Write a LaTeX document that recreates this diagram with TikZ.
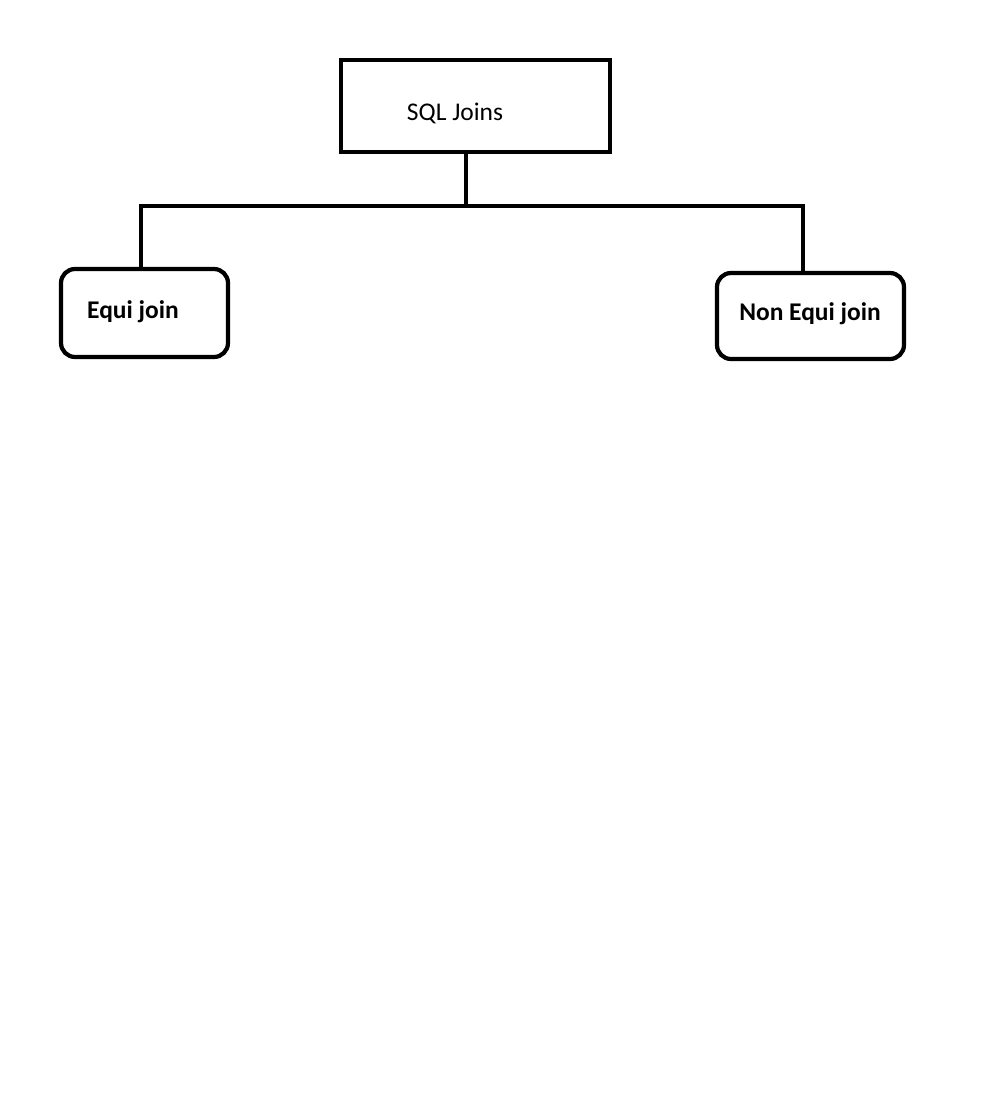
\documentclass[tikz,border=0pt]{standalone}
\usepackage{fontspec}
\setmainfont{Carlito}
\begin{document}
\begin{tikzpicture}[x=0.02cm,y=-0.02cm,
  ln/.style={line width=2.4pt},
  bx/.style={draw,line width=2.4pt,inner sep=0pt},
  lbl/.style={font=\fontsize{14.5}{17}\selectfont}]
\useasboundingbox (0,0) rectangle (1000,1099);
\node[bx,minimum width=269*0.02cm,minimum height=92*0.02cm] (top) at (475.5,106) {};
\node[lbl] (t) at (455,113) {SQL Joins};
\node[bx,rounded corners=8pt,minimum width=167*0.02cm,minimum height=88*0.02cm] (l) at (144.5,313) {};
\node[lbl,font=\fontsize{14.5}{17}\selectfont\bfseries] (lt) at (133,312) {Equi join};
\node[bx,rounded corners=8pt,minimum width=187*0.02cm,minimum height=86*0.02cm] (r) at (810.5,316) {};
\node[lbl,font=\fontsize{14.5}{17}\selectfont\bfseries] (rt) at (810,314) {Non Equi join};
\coordinate (j) at (466,206);
\coordinate (jl) at (141,206);
\coordinate (jr) at (803,206);
\draw[ln] (top.south -| j) -- (j);
\draw[ln,line cap=rect] (jl) -- (jr);
\draw[ln] (jl) -- (l.north -| jl);
\draw[ln] (jr) -- (r.north -| jr);
\end{tikzpicture}
\end{document}
